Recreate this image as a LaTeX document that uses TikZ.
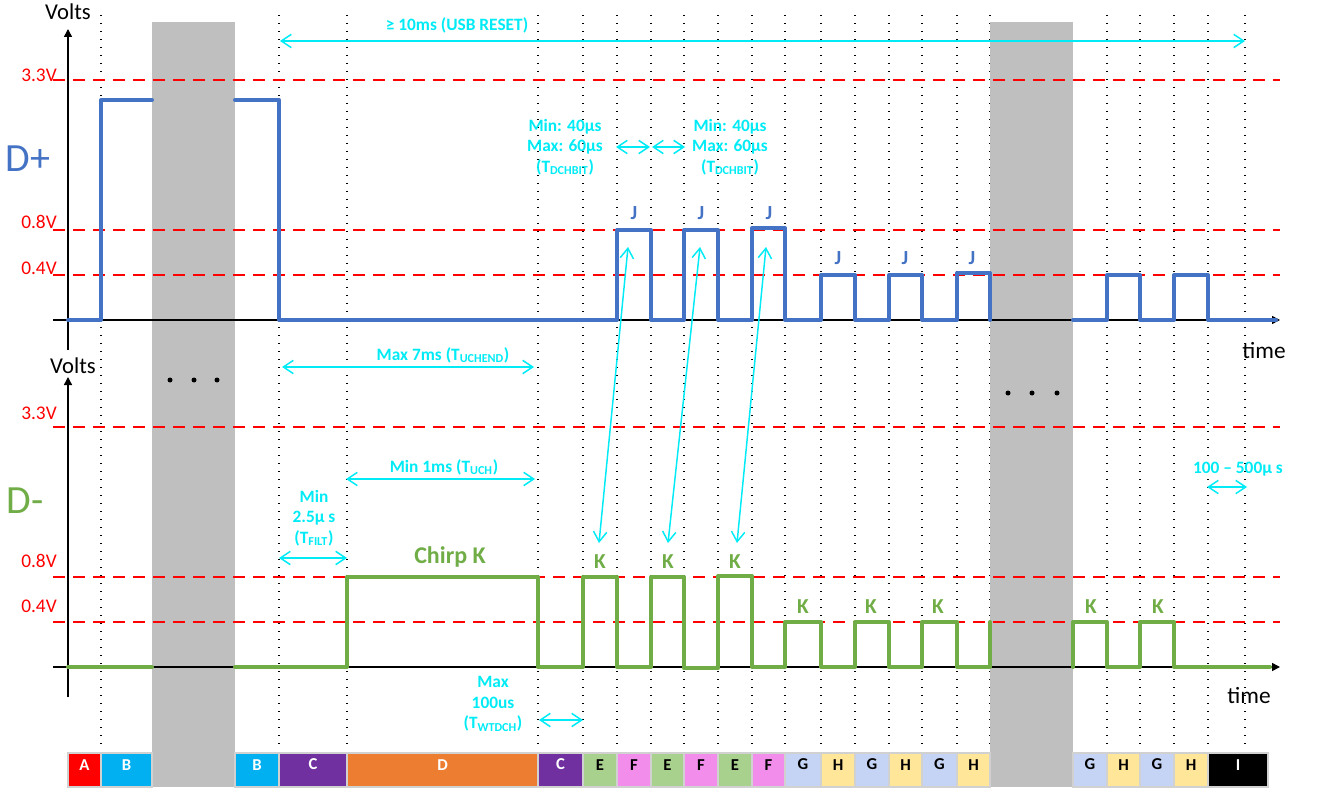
\documentclass[tikz,border=0pt]{standalone}
\usepackage{fontspec}
\setmainfont{Carlito}
\usetikzlibrary{arrows.meta}
\usetikzlibrary{fit}
\definecolor{dplus}{HTML}{4472C4}
\definecolor{dminus}{HTML}{70AD47}
\definecolor{tcyan}{RGB}{0,235,245}
\definecolor{lvlred}{HTML}{FF0000}
\definecolor{band}{HTML}{BFBFBF}
\definecolor{cA}{HTML}{FF0000}
\definecolor{cB}{HTML}{00B0F0}
\definecolor{cC}{HTML}{7030A0}
\definecolor{cD}{HTML}{ED7D31}
\definecolor{cE}{HTML}{A9D18E}
\definecolor{cF}{HTML}{F28DEC}
\definecolor{cG}{HTML}{C5D4F4}
\definecolor{cH}{HTML}{FFE699}
\makeatletter
\tikzset{
  cellfit/.style={
    inner sep=0pt,
    fill=none,
    draw=none,
    reset transform,
    fit={(\pgf@pathminx,\pgf@pathminy) (\pgf@pathmaxx,\pgf@pathmaxy)},
    font=\fontsize{12.5}{13}\selectfont\bfseries
  },
  reset transform/.code={\pgftransformreset}
}
\makeatother
\tikzset{
  cell/.style={draw=black!18, line width=0.8pt},
  level/.style={lvlred, line width=1.1pt, dash pattern=on 9pt off 6pt},
  gridline/.style={line width=0.8pt, dash pattern=on 0.8pt off 5.2pt},
  wave/.style={line width=3pt, line join=round, line cap=round},
  axis/.style={line width=1.1pt, -{Triangle[length=6pt,width=6pt]}},
  tarr/.style={tcyan, line width=1.1pt, {Straight Barb[length=7.5pt,width=10pt]}-{Straight Barb[length=7.5pt,width=10pt]}},
  tlbl/.style={tcyan, font=\fontsize{13}{15.5}\selectfont\bfseries, align=center},
  vlbl/.style={lvlred, font=\fontsize{14.5}{16}\selectfont},
  jlbl/.style={dplus, font=\fontsize{15}{16}\selectfont\bfseries},
  klbl/.style={dminus, font=\fontsize{16}{17}\selectfont\bfseries}
}

\begin{document}
\begin{tikzpicture}[x=0.75pt, y=-0.75pt]
    \useasboundingbox (0,0) rectangle (1330,798);

    % time slots
    \draw[gridline] (101,15) -- (101,750);
    \draw[gridline] (279,15) -- (279,750);
    \draw[gridline] (347,15) -- (347,750);
    \draw[gridline] (538,15) -- (538,750);
    \draw[gridline] (583,15) -- (583,750);
    \draw[gridline] (617,15) -- (617,750);
    \draw[gridline] (651,15) -- (651,750);
    \draw[gridline] (684,15) -- (684,750);
    \draw[gridline] (718,15) -- (718,750);
    \draw[gridline] (752,15) -- (752,750);
    \draw[gridline] (785,15) -- (785,750);
    \draw[gridline] (821,15) -- (821,750);
    \draw[gridline] (855,15) -- (855,750);
    \draw[gridline] (889,15) -- (889,750);
    \draw[gridline] (922,15) -- (922,750);
    \draw[gridline] (957,15) -- (957,750);
    \draw[gridline] (990,15) -- (990,750);
    \draw[gridline] (1107,15) -- (1107,750);
    \draw[gridline] (1140,15) -- (1140,750);
    \draw[gridline] (1174,15) -- (1174,750);
    \draw[gridline] (1208,15) -- (1208,750);
    \draw[gridline] (1245,15) -- (1245,750);

    \fill[band] (152,22) rectangle (235,787);
    \fill[band] (990,22) rectangle (1073,787);

    % D+ plot
    \draw[level] (53,80) -- (1280,80);
    \draw[level] (53,230) -- (1280,230);
    \draw[level] (53,275) -- (1280,275);
    \node[vlbl] (p33) at (39,75) {3.3V};
    \node[vlbl] (p08) at (39,222) {0.8V};
    \node[vlbl] (p04) at (39,268) {0.4V};
    \draw[axis] (68,350) -- (68,29);
    \draw[axis] (53,320) -- (1280,320);
    \node (volts1) at (68,12) {\fontsize{17}{18}\selectfont Volts};
    \node (time1) at (1264,351) {\fontsize{17.5}{18}\selectfont time};
    \node[dplus] (dp) at (28,159) {\fontsize{30}{32}\selectfont D+};

    % D- plot
    \draw[level] (53,427) -- (1280,427);
    \draw[level] (53,577) -- (1280,577);
    \draw[level] (53,622) -- (1280,622);
    \node[vlbl] (m33) at (39,413) {3.3V};
    \node[vlbl] (m08) at (39,561) {0.8V};
    \node[vlbl] (m04) at (39,606) {0.4V};
    \draw[axis] (68,697) -- (68,377);
    \draw[axis] (53,667) -- (1280,667);
    \node (volts2) at (73,366) {\fontsize{17}{18}\selectfont Volts};
    \node (time2) at (1249,696) {\fontsize{17.5}{18}\selectfont time};
    \node[dminus] (dm) at (25,501) {\fontsize{30}{32}\selectfont D-};

    \fill (170,380) circle (2.5);
    \fill (194,380) circle (2.5);
    \fill (217,380) circle (2.5);
    \fill (1008,393) circle (2.5);
    \fill (1032,393) circle (2.5);
    \fill (1057,393) circle (2.5);

    % waveforms
    \draw[wave, dplus] (68,320) -- (101,320) -- (101,100) -- (152,100);
    \draw[wave, dplus] (235,100) -- (279,100) -- (279,320) -- (617,320) -- (617,230) -- (651,230)
        -- (651,320) -- (684,320) -- (684,230) -- (718,230) -- (718,320) -- (752,320) -- (752,228)
        -- (785,228) -- (785,320) -- (821,320) -- (821,275) -- (855,275) -- (855,320) -- (889,320)
        -- (889,275) -- (922,275) -- (922,320) -- (957,320) -- (957,273) -- (990,273) -- (990,320);
    \draw[wave, dplus] (1073,320) -- (1107,320) -- (1107,275) -- (1140,275) -- (1140,320)
        -- (1174,320) -- (1174,275) -- (1208,275) -- (1208,320) -- (1276,320);

    \draw[wave, dminus] (68,667) -- (152,667);
    \draw[wave, dminus] (235,667) -- (347,667) -- (347,577) -- (538,577) -- (538,667) -- (583,667)
        -- (583,577) -- (617,577) -- (617,667) -- (651,667) -- (651,577) -- (684,577) -- (684,668)
        -- (718,668) -- (718,576) -- (752,576) -- (752,667) -- (785,667) -- (785,622) -- (821,622)
        -- (821,667) -- (855,667) -- (855,622) -- (889,622) -- (889,667) -- (922,667) -- (922,622)
        -- (957,622) -- (957,667) -- (990,667) -- (990,622);
    \draw[wave, dminus] (1073,667) -- (1073,622) -- (1107,622) -- (1107,667) -- (1140,667)
        -- (1140,622) -- (1174,622) -- (1174,667) -- (1270,667);

    \node[klbl, font=\fontsize{18}{19}\selectfont\bfseries] (chirp) at (450,557) {Chirp K};
    \node[jlbl] (j1) at (634,213) {J};
    \node[jlbl] (j2) at (701,213) {J};
    \node[jlbl] (j3) at (769,213) {J};
    \node[jlbl] (j4) at (838,258) {J};
    \node[jlbl] (j5) at (905,258) {J};
    \node[jlbl] (j6) at (972,258) {J};
    \node[klbl] (k1) at (600,562) {K};
    \node[klbl] (k2) at (668,562) {K};
    \node[klbl] (k3) at (735,562) {K};
    \node[klbl] (k4) at (803,607) {K};
    \node[klbl] (k5) at (871,607) {K};
    \node[klbl] (k6) at (938,607) {K};
    \node[klbl] (k7) at (1091,607) {K};
    \node[klbl] (k8) at (1158,607) {K};

    % timings
    \coordinate (rst0) at (280,41);
    \coordinate (rst1) at (1245,41);
    \draw[tarr] (rst0) -- (rst1);
    \node[tlbl] (rst) at (457,25) {≥ 10ms (USB RESET)};

    \coordinate (bit0) at (616,147);
    \coordinate (bit1) at (650,147);
    \coordinate (bit2) at (652,147);
    \coordinate (bit3) at (685,147);
    \draw[tarr] (bit0) -- (bit1);
    \draw[tarr] (bit2) -- (bit3);
    \node[tlbl] (bitl) at (565,147) {Min: 40µs\\Max: 60µs\\(T\textsubscript{DCHBIT})};
    \node[tlbl] (bitr) at (730,147) {Min: 40µs\\Max: 60µs\\(T\textsubscript{DCHBIT})};

    \coordinate (kt1) at (599,543);
    \coordinate (jb1) at (628,247);
    \coordinate (kt2) at (668,543);
    \coordinate (jb2) at (700,247);
    \coordinate (kt3) at (737,543);
    \coordinate (jb3) at (766,247);
    \draw[tarr] (kt1) -- (jb1);
    \draw[tarr] (kt2) -- (jb2);
    \draw[tarr] (kt3) -- (jb3);

    \coordinate (end0) at (282,367);
    \coordinate (end1) at (534,367);
    \draw[tarr] (end0) -- (end1);
    \node[tlbl] (endl) at (443,355) {Max 7ms (T\textsubscript{UCHEND})};

    \coordinate (uch0) at (346,479);
    \coordinate (uch1) at (535,479);
    \draw[tarr] (uch0) -- (uch1);
    \node[tlbl] (uchl) at (444,467) {Min 1ms (T\textsubscript{UCH})};

    \coordinate (flt0) at (279,558);
    \coordinate (flt1) at (347,558);
    \draw[tarr] (flt0) -- (flt1);
    \node[tlbl] (fltl) at (314,518) {Min\\2.5µ s\\(T\textsubscript{FILT})};

    \coordinate (wt0) at (539,720);
    \coordinate (wt1) at (583,720);
    \draw[tarr] (wt0) -- (wt1);
    \node[tlbl] (wtl) at (493,704) {Max\\100us\\(T\textsubscript{WTDCH})};

    \coordinate (rs0) at (1207,487);
    \coordinate (rs1) at (1247,487);
    \draw[tarr] (rs0) -- (rs1);
    \node[tlbl] (rsl) at (1238,469) {100 – 500µ s};

    % states
    \draw[cell, fill=cA] (68,753) rectangle (101,787) node[cellfit, text=white] (sA) {A};
    \draw[cell, fill=cB] (101,753) rectangle (152,787) node[cellfit, text=white] (sB1) {B};
    \draw[cell, fill=cB] (235,753) rectangle (279,787) node[cellfit, text=white] (sB2) {B};
    \draw[cell, fill=cC] (279,753) rectangle (347,787) node[cellfit, text=white] (sC1) {C};
    \draw[cell, fill=cD] (347,753) rectangle (538,787) node[cellfit, text=white] (sD) {D};
    \draw[cell, fill=cC] (538,753) rectangle (583,787) node[cellfit, text=white] (sC2) {C};
    \draw[cell, fill=cE] (583,753) rectangle (617,787) node[cellfit] (sE1) {E};
    \draw[cell, fill=cF] (617,753) rectangle (651,787) node[cellfit] (sF1) {F};
    \draw[cell, fill=cE] (651,753) rectangle (684,787) node[cellfit] (sE2) {E};
    \draw[cell, fill=cF] (684,753) rectangle (718,787) node[cellfit] (sF2) {F};
    \draw[cell, fill=cE] (718,753) rectangle (752,787) node[cellfit] (sE3) {E};
    \draw[cell, fill=cF] (752,753) rectangle (785,787) node[cellfit] (sF3) {F};
    \draw[cell, fill=cG] (785,753) rectangle (821,787) node[cellfit] (sG1) {G};
    \draw[cell, fill=cH] (821,753) rectangle (855,787) node[cellfit] (sH1) {H};
    \draw[cell, fill=cG] (855,753) rectangle (889,787) node[cellfit] (sG2) {G};
    \draw[cell, fill=cH] (889,753) rectangle (922,787) node[cellfit] (sH2) {H};
    \draw[cell, fill=cG] (922,753) rectangle (957,787) node[cellfit] (sG3) {G};
    \draw[cell, fill=cH] (957,753) rectangle (990,787) node[cellfit] (sH3) {H};
    \draw[cell, fill=cG] (1073,753) rectangle (1107,787) node[cellfit] (sG4) {G};
    \draw[cell, fill=cH] (1107,753) rectangle (1140,787) node[cellfit] (sH4) {H};
    \draw[cell, fill=cG] (1140,753) rectangle (1174,787) node[cellfit] (sG5) {G};
    \draw[cell, fill=cH] (1174,753) rectangle (1208,787) node[cellfit] (sH5) {H};
    \draw[cell, fill=black] (1208,753) rectangle (1268,787) node[cellfit, text=white] (sI) {I};

\end{tikzpicture}
\end{document}
